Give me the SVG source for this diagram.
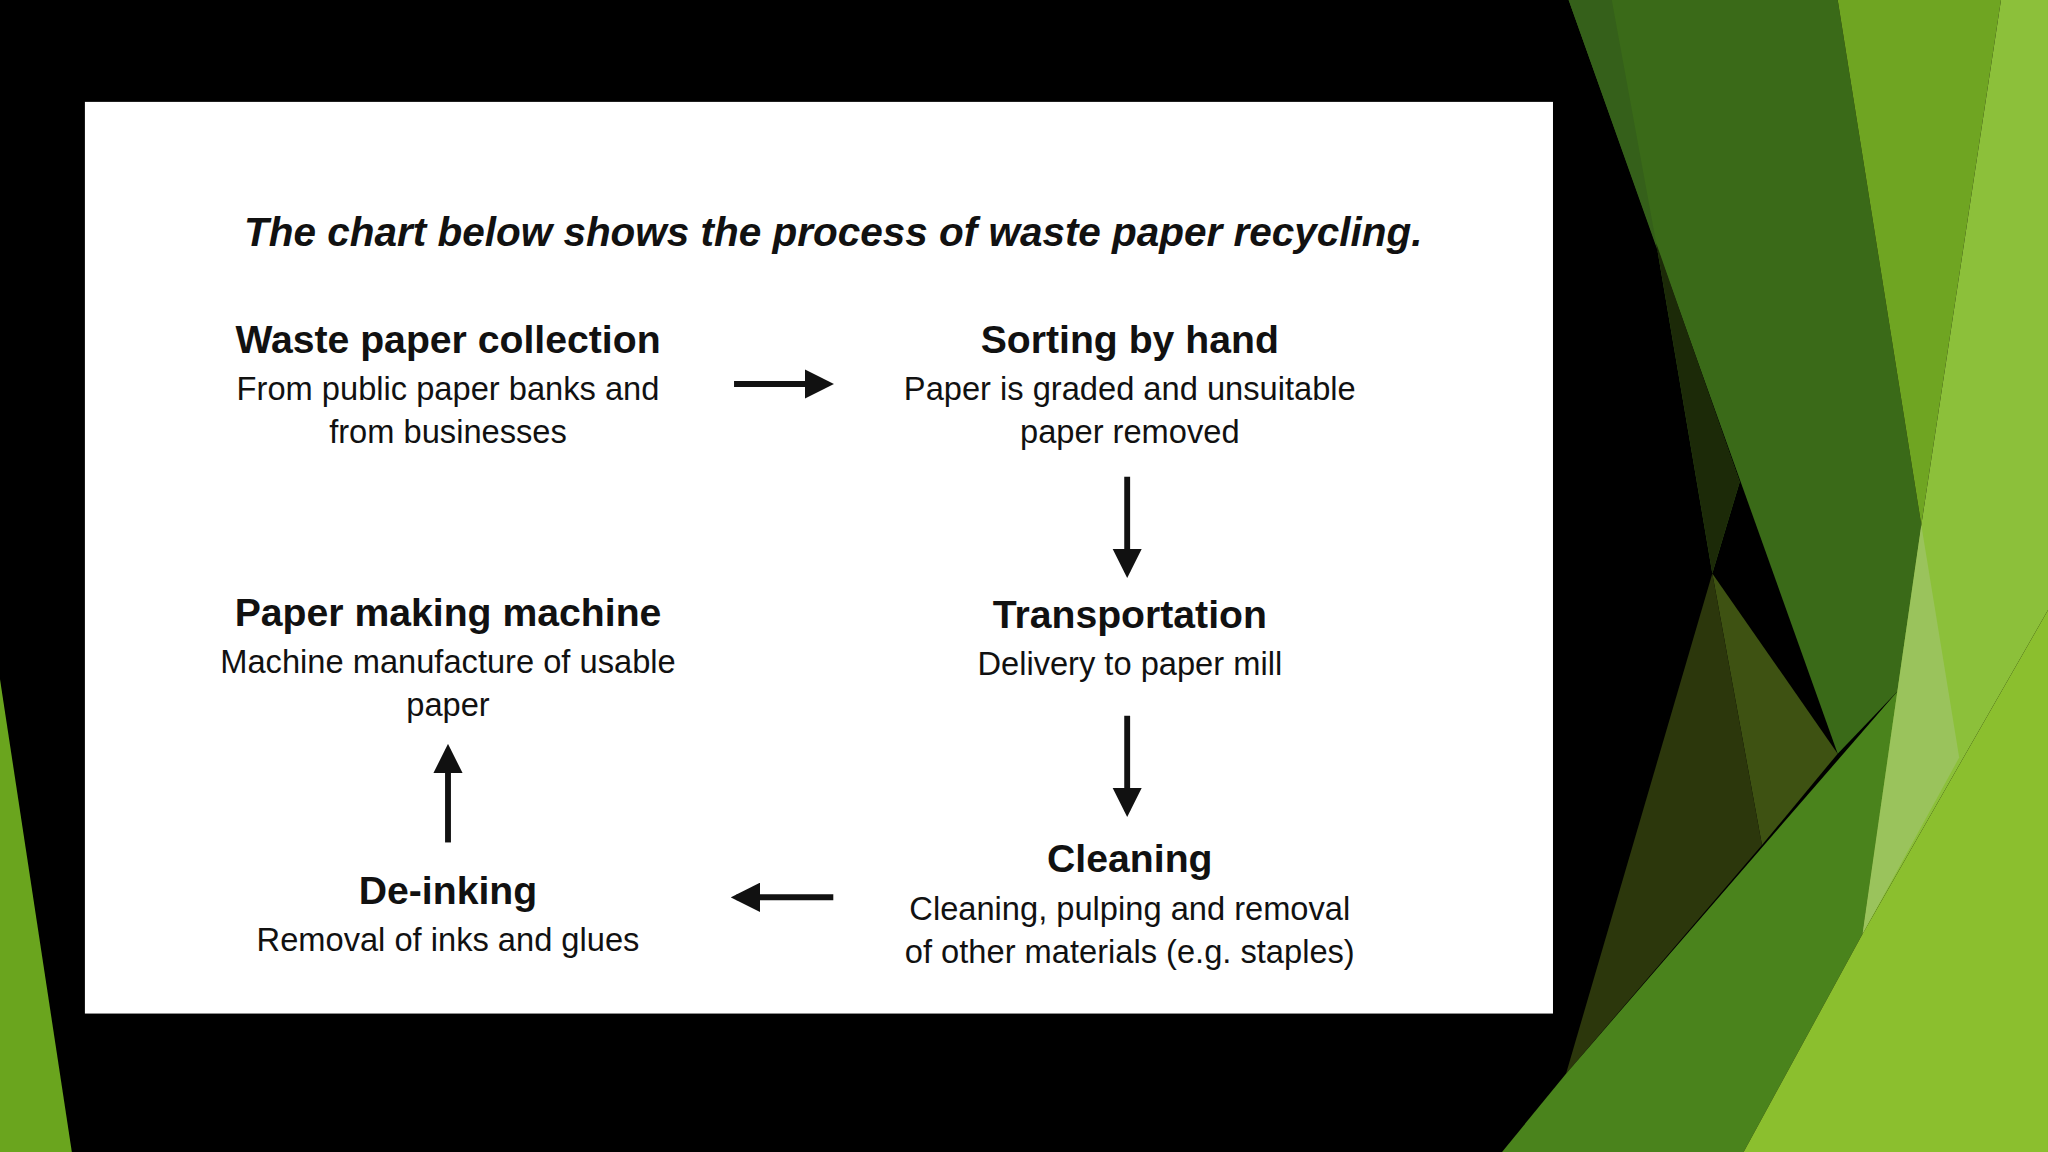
<svg xmlns="http://www.w3.org/2000/svg" width="2048" height="1152" viewBox="0 0 2048 1152">
<style>
.h{font-family:"Liberation Sans",Arial,sans-serif;font-weight:bold;font-size:30px;fill:#111;text-anchor:middle}
.b{font-family:"Liberation Sans",Arial,sans-serif;font-size:25px;fill:#111;text-anchor:middle}
.t{font-family:"Liberation Sans",Arial,sans-serif;font-weight:bold;font-style:italic;font-size:31px;fill:#111;text-anchor:middle}
.a{stroke:#111;stroke-width:4.5;fill:none}
</style>
<defs><marker id="ah" viewBox="0 0 10 10" refX="8" refY="5" markerWidth="5" markerHeight="5" orient="auto" markerUnits="strokeWidth"><path d="M0,0 L10,5 L0,10 Z" fill="#111"/></marker></defs>
<rect width="2048" height="1152" fill="#000"/>
<g transform="scale(1.30612)">
<g id="background">
<polygon points="1201,0 1407,0 1471,402 1453,529 1407,577" fill="#3a6a18"/>
<polygon points="1234,0 1201,0 1332,369 1311,439 1268,186" fill="#35601a"/>
<polygon points="1268,186 1332,369 1311,439" fill="#1c2a08"/>
<polygon points="1311,439 1407,577 1349,647" fill="#3e5212"/>
<polygon points="1311,439 1349,647 1199,822" fill="#2c370c"/>
<polygon points="1199,822 1453,529 1426,715 1335,882 1150,882" fill="#4a831c"/>
<polygon points="1407,0 1532,0 1471,402" fill="#6fa522"/>
<polygon points="1532,0 1568,0 1568,467 1426,715 1471,402" fill="#8cc03a"/>
<polygon points="1471,402 1500,580 1426,715" fill="#9ac35c"/>
<polygon points="1568,467 1568,882 1335,882 1426,715" fill="#8bbf2e"/>
<polygon points="0,520 55,882 0,882" fill="#6aa51e"/>
<rect x="65" y="78" width="1124" height="698" fill="#fff"/>
</g>
<text class="t" x="638" y="188">The chart below shows the process of waste paper recycling.</text>
<g id="n1"><text class="h" x="343" y="270">Waste paper collection</text><text class="b" x="343" y="306">From public paper banks and</text><text class="b" x="343" y="339">from businesses</text></g>
<g id="n2"><text class="h" x="865" y="270">Sorting by hand</text><text class="b" x="865" y="306">Paper is graded and unsuitable</text><text class="b" x="865" y="339">paper removed</text></g>
<g id="n3"><text class="h" x="865" y="481">Transportation</text><text class="b" x="865" y="517">Delivery to paper mill</text></g>
<g id="n4"><text class="h" x="865" y="668">Cleaning</text><text class="b" x="865" y="704">Cleaning, pulping and removal</text><text class="b" x="865" y="737">of other materials (e.g. staples)</text></g>
<g id="n5"><text class="h" x="343" y="692">De-inking</text><text class="b" x="343" y="728">Removal of inks and glues</text></g>
<g id="n6"><text class="h" x="343" y="479">Paper making machine</text><text class="b" x="343" y="515">Machine manufacture of usable</text><text class="b" x="343" y="548">paper</text></g>
<g id="connectors">
<line class="a" x1="562" y1="294" x2="634" y2="294" marker-end="url(#ah)"/>
<line class="a" x1="863" y1="365" x2="863" y2="438" marker-end="url(#ah)"/>
<line class="a" x1="863" y1="548" x2="863" y2="621" marker-end="url(#ah)"/>
<line class="a" x1="638" y1="687" x2="564" y2="687" marker-end="url(#ah)"/>
<line class="a" x1="343" y1="645" x2="343" y2="574" marker-end="url(#ah)"/>
</g>
</g>
</svg>
